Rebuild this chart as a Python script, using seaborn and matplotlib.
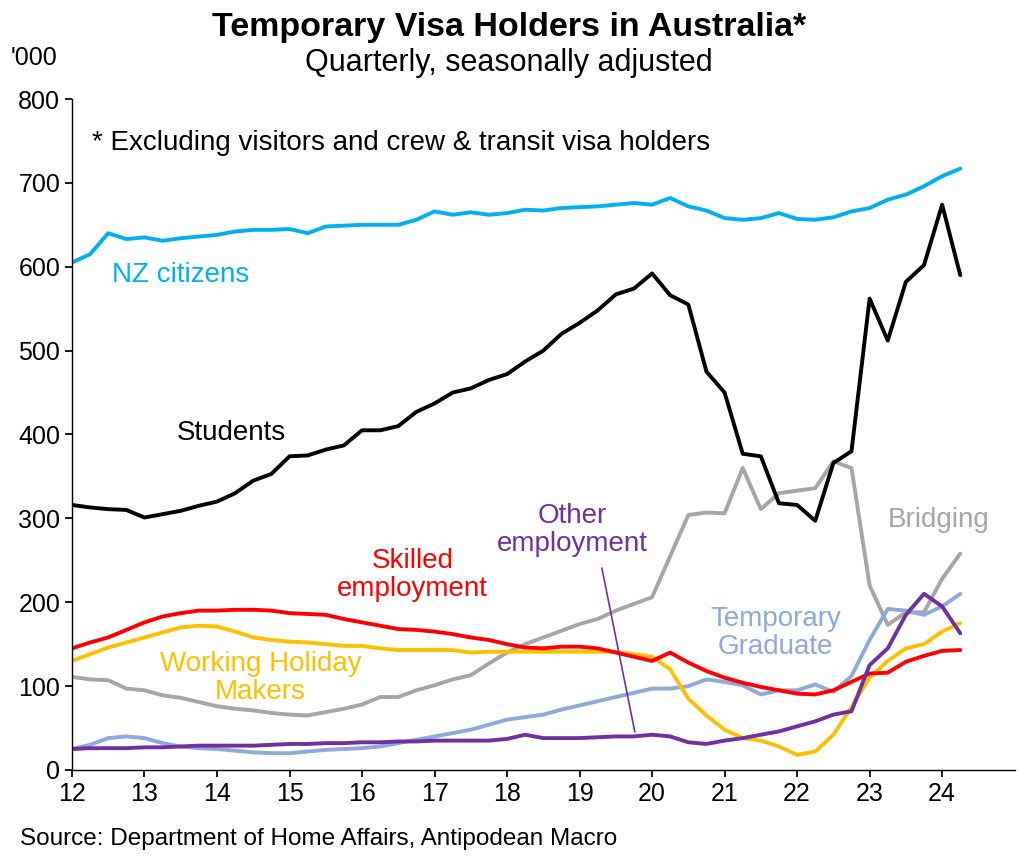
import numpy as np
import pandas as pd
import seaborn as sns
import matplotlib.pyplot as plt

sns.set_theme(style="white")
plt.rcParams['font.family'] = ['Liberation Sans', 'DejaVu Sans']
plt.rcParams['text.color'] = 'black'
plt.rcParams['xtick.color'] = 'black'
plt.rcParams['ytick.color'] = 'black'

start_year = 12
nz = [605,615,640,633,635,631,634,636,638,642,644,644,645,640,648,649,650,650,650,656,666,662,665,662,664,668,667,670,671,672,674,676,674,682,672,667,658,656,658,664,657,656,659,666,670,680,686,696,708,717]
students = [316,313,311,310,301,305,309,315,320,330,345,353,374,375,382,387,405,405,410,427,437,450,455,465,472,487,500,520,533,548,567,574,592,566,555,475,450,377,374,318,316,297,366,380,562,512,582,602,674,590]
bridging = [111,108,107,97,95,89,86,81,76,73,71,68,66,65,69,73,78,87,87,95,101,108,113,127,140,150,158,166,174,180,190,198,206,255,304,307,306,360,311,330,333,336,368,360,220,173,188,188,228,258]
skilled = [145,152,158,167,176,183,187,190,190,191,191,190,187,186,185,180,176,172,168,167,165,162,158,155,150,146,145,147,147,145,140,135,130,140,128,118,110,104,99,95,91,90,95,105,115,116,129,136,142,143]
working_holiday = [130,138,146,152,158,164,170,172,171,165,158,155,153,152,150,148,148,145,143,143,143,143,140,141,141,141,141,141,141,141,141,138,135,120,85,65,48,38,35,28,18,22,42,75,110,130,145,150,165,175]
temp_graduate = [25,30,38,40,38,32,28,26,25,23,21,20,20,22,24,25,26,28,32,36,40,44,48,54,60,63,66,72,77,82,87,92,97,97,100,108,105,101,90,95,95,102,93,112,155,192,190,185,195,210]
other_employment = [25,26,26,26,27,27,28,29,29,29,29,30,31,31,32,32,33,33,34,34,35,35,35,35,37,42,38,38,38,39,40,40,42,40,33,31,35,38,42,46,52,58,66,70,125,145,185,210,195,163]
xticks = list(range(12, 25))

x = start_year + np.arange(len(students)) * 0.25
series = {
    "NZ citizens": (nz, "#00B0F0"),
    "Bridging": (bridging, "#A6A6A6"),
    "Temporary Graduate": (temp_graduate, "#8EA9DB"),
    "Working Holiday": (working_holiday, "#FFC000"),
    "Skilled": (skilled, "#FF0000"),
    "Other": (other_employment, "#7030A0"),
    "Students": (students, "black"),
}
rows = []
for name, (vals, _) in series.items():
    for xi, v in zip(x, vals):
        rows.append((name, xi, v))
df = pd.DataFrame(rows, columns=["series", "x", "value"])

fig = plt.figure(figsize=(10.18, 8.58), dpi=100)
ax = fig.add_axes([0.0707, 0.1026, 0.926, 0.782])
sns.lineplot(data=df, x="x", y="value", hue="series",
             palette={k: c for k, (_, c) in series.items()},
             linewidth=2.8, legend=False, ax=ax)

ax.set_xlim(12, 25)
ax.set_ylim(0, 800)
ax.set_xticks(xticks)
ax.set_xticklabels([str(t) for t in xticks])
ax.set_yticks(range(0, 801, 100))
ax.set_xlabel("")
ax.set_ylabel("")
for s in ["top", "right"]:
    ax.spines[s].set_visible(False)
for s in ["left", "bottom"]:
    ax.spines[s].set_color("black")
    ax.spines[s].set_linewidth(1)
ax.tick_params(axis="both", labelsize=18, length=5, direction="out", color="black",
               bottom=True, left=True)

fs = 20
ax.text(13.5, 590, "NZ citizens", color="#00B0F0", fontsize=fs, ha="center", va="center")
ax.text(14.2, 402, "Students", color="black", fontsize=fs, ha="center", va="center")
ax.text(23.95, 298, "Bridging", color="#A6A6A6", fontsize=fs, ha="center", va="center")
ax.text(16.7, 233, "Skilled\nemployment", color="#FF0000", fontsize=fs, ha="center", va="center", linespacing=1.1)
ax.text(18.9, 286, "Other\nemployment", color="#7030A0", fontsize=fs, ha="center", va="center", linespacing=1.1)
ax.text(21.7, 163, "Temporary\nGraduate", color="#8EA9DB", fontsize=fs, ha="center", va="center", linespacing=1.1)
ax.text(14.6, 110, "Working Holiday\nMakers", color="#FFC000", fontsize=fs, ha="center", va="center", linespacing=1.1)
ax.annotate("", xy=(19.77, 42), xytext=(19.3, 244),
            arrowprops=dict(arrowstyle="-", color="#7030A0", lw=1.2))
ax.text(12.28, 747, "* Excluding visitors and crew & transit visa holders", fontsize=20, ha="left", va="center")

fig.text(0.5, 0.968, "Temporary Visa Holders in Australia*", fontsize=24.5, fontweight="bold", ha="center", va="center")
fig.text(0.5, 0.927, "Quarterly, seasonally adjusted", fontsize=22, ha="center", va="center")
fig.text(0.01, 0.932, "'000", fontsize=18, ha="left", va="center")
fig.text(0.02, 0.022, "Source: Department of Home Affairs, Antipodean Macro", fontsize=17.5, ha="left", va="center")

fig.savefig("out.png", dpi=100)
